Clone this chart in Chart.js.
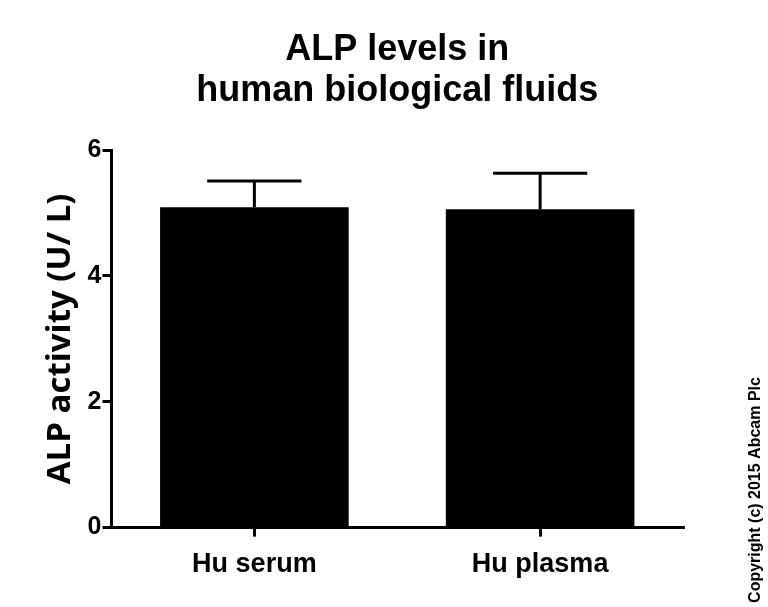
<!DOCTYPE html>
<html>
<head>
<meta charset="utf-8">
<script src="https://cdn.jsdelivr.net/npm/chart.js@4"></script>
<style>
	body { margin: 0; background: #fff; }
	#wrap { width: 768px; height: 607px; }
</style>
</head>
<body>
<div id="wrap"><canvas id="alpChart" width="768" height="607"></canvas></div>
<script>
var labels = ["Hu serum", "Hu plasma"];
var means = [5.09, 5.06];
var errors = [0.42, 0.57]; // upper SD only
var yTicks = [0, 2, 4, 6];

// draws the upward error bars + caps
var errorBars = {
	id: "errorBars",
	afterDatasetsDraw: function (chart) {
		var ctx = chart.ctx;
		var meta = chart.getDatasetMeta(0);
		var y = chart.scales.y;
		ctx.save();
		ctx.strokeStyle = "#000";
		ctx.lineWidth = 3;
		meta.data.forEach(function (bar, i) {
			var top = y.getPixelForValue(means[i] + errors[i]);
			var half = bar.width * 0.25;
			ctx.beginPath();
			ctx.moveTo(bar.x, bar.y);
			ctx.lineTo(bar.x, top);
			ctx.moveTo(bar.x - half, top);
			ctx.lineTo(bar.x + half, top);
			ctx.stroke();
		});
		ctx.restore();
	},
};

var copyright = {
	id: "copyright",
	afterDraw: function (chart) {
		var ctx = chart.ctx;
		ctx.save();
		ctx.translate(756, 490);
		ctx.rotate(-Math.PI / 2);
		ctx.font = "bold 16px 'Liberation Sans', Arial, sans-serif";
		ctx.fillStyle = "#000";
		ctx.textAlign = "center";
		ctx.textBaseline = "middle";
		ctx.fillText("Copyright (c) 2015 Abcam Plc", 0, 0);
		ctx.restore();
	},
};

function drawChart() {
	var ctx = document.getElementById("alpChart").getContext("2d");
	new Chart(ctx, {
		type: "bar",
		data: {
			labels: labels,
			datasets: [
				{
					data: means,
					backgroundColor: "#000",
					borderWidth: 0,
					barPercentage: 0.66,
					categoryPercentage: 1,
				},
			],
		},
		options: {
			responsive: false,
			animation: false,
			layout: { padding: { top: 30, right: 85, bottom: 14, left: 41 } },
			plugins: {
				legend: { display: false },
				tooltip: { enabled: false },
				title: {
					display: true,
					text: ["ALP levels in", "human biological fluids"],
					color: "#000",
					fullSize: false,
					font: { family: "'Liberation Sans', Arial, sans-serif", size: 36, weight: "bold", lineHeight: 1.14 },
					padding: { top: 0, bottom: 38 },
				},
			},
			scales: {
				x: {
					grid: { display: true, drawOnChartArea: false, offset: false, tickLength: 9, lineWidth: 3, color: "#000" },
					border: { color: "#000", width: 3 },
					ticks: {
						color: "#000",
						padding: 12,
						font: { family: "'Liberation Sans', Arial, sans-serif", size: 27, weight: "bold" },
					},
				},
				y: {
					min: 0,
					max: 6,
					afterBuildTicks: function (axis) {
						axis.ticks = yTicks.map(function (v) { return { value: v }; });
					},
					grid: { display: true, drawOnChartArea: false, tickLength: 9, lineWidth: 3, color: "#000" },
					border: { color: "#000", width: 3 },
					ticks: {
						color: "#000",
						padding: 1,
						font: { family: "'Liberation Sans', Arial, sans-serif", size: 25, weight: "bold" },
					},
					title: {
						display: true,
						text: "ALP activity (U/ L)",
						color: "#000",
						font: { family: "'Open Sans', sans-serif", size: 33, weight: "bold" },
						padding: { top: 0, bottom: 6 },
					},
				},
			},
		},
		plugins: [errorBars, copyright],
	});
}

window.onload = function () {
	drawChart();
};
</script>
</body>
</html>
